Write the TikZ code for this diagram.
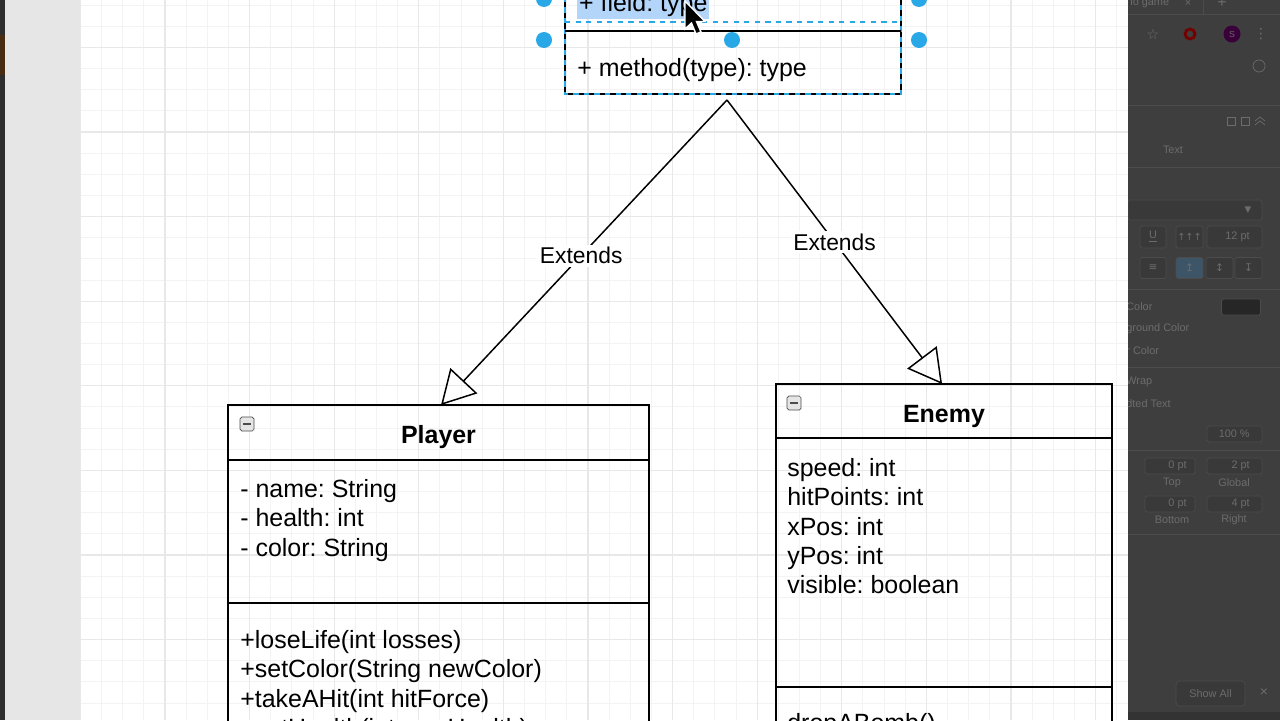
\documentclass[tikz,border=0pt]{standalone}
\usepackage{fontspec}
\setmainfont{Liberation Sans}
\newfontfamily\symfont{DejaVu Sans}
\frenchspacing
\usetikzlibrary{arrows.meta, positioning, calc}
\definecolor{DIOblue}{HTML}{29A8E8}
\definecolor{DIOselect}{HTML}{B4D5FA}
\definecolor{DIOgrid}{HTML}{F3F3F3}
\definecolor{DIOmajor}{HTML}{E8E8E8}
\definecolor{DIOside}{HTML}{E6E6E6}
\definecolor{DIOdark}{HTML}{2E2E2E}
\definecolor{DIObrown}{HTML}{4A2C12}
\definecolor{DIOpanel}{HTML}{3E3E3E}
\definecolor{DIOpanelbox}{HTML}{393939}
\definecolor{DIOpanelline}{HTML}{4C4C4C}
\definecolor{DIOpaneltext}{HTML}{6C6C6C}
\definecolor{DIOpanelblue}{HTML}{3E5568}

\tikzset{
  umlpart/.style={draw=black, line width=1.1pt, inner sep=0pt, outer sep=0pt},
  umlhead/.style={umlpart, font=\fontsize{14.2}{17}\selectfont\bfseries},
  members/.style={inner sep=0pt, align=left, font=\fontsize{14.2}{16.7}\selectfont},
  extends/.style={line width=0.85pt, -{Triangle[open, length=19pt, width=21pt]}},
  extlabel/.style={fill=white, inner sep=1.5pt, font=\fontsize{13}{15}\selectfont},
  collapser/.style={draw=gray!60!black, fill=gray!20, minimum size=0.28cm, inner sep=0pt,
    rounded corners=1pt, path picture={\draw[line width=1.1pt]
      ([xshift=1.8pt]path picture bounding box.west) -- ([xshift=-1.8pt]path picture bounding box.east);}},
  handle/.style={circle, fill=DIOblue, minimum size=0.32cm, inner sep=0pt},
  paneltext/.style={text=DIOpaneltext, font=\fontsize{6.2}{7}\selectfont, inner sep=0pt},
  panelbox/.style={draw=DIOpanelline, fill=DIOpanelbox, inner sep=0pt, rounded corners=1pt}
}

\begin{document}
\begin{tikzpicture}[x=0.02cm, y=-0.02cm]
  \useasboundingbox (0,0) rectangle (1280,720);
  \clip (0,0) rectangle (1280,720);
  % Left side bar
  \fill[DIOside] (0,0) rectangle (80,720);
  \fill[DIOdark] (0,0) rectangle (5,720);
  \fill[DIObrown] (0,35) rectangle (5,75);
  % Canvas with grid
  \begin{scope}
    \clip (80,0) rectangle (1128,720);
    \fill[white] (80,0) rectangle (1128,720);
    \foreach \i in {0,...,50}
      \draw[DIOgrid, line width=0.6pt] ({80.4+21.15*\i},0) -- ++(0,720);
    \foreach \j in {0,...,36}
      \draw[DIOgrid, line width=0.6pt] (80,{-16.05+21.15*\j}) -- ++(1048,0);
    \foreach \i in {0,...,12}
      \draw[DIOmajor, line width=0.7pt] ({80.4+84.6*\i},0) -- ++(0,720);
    \foreach \j in {-1,...,8}
      \draw[DIOmajor, line width=0.7pt] (80,{47.4+84.6*\j}) -- ++(1048,0);
  \end{scope}
  \draw[DIOmajor] (80,0) -- (80,720);

  % Base class (selected)
  \node[umlpart, draw=DIOblue, minimum width=6.72cm, minimum height=1.42cm] (topfields) at (733,-4.5) {};
  \node[umlpart, draw=DIOblue, minimum width=6.72cm, minimum height=1.26cm, below=0pt of topfields] (topops) {};
  \draw[line width=1.1pt, dashed] (topfields.north west) rectangle (topops.south east);
  \draw[line width=1.1pt] (topops.north west) -- (topops.north east);
  \draw[DIOblue, line width=0.9pt, dashed] (565,22) -- (901,22);
  \node[members, anchor=north west, fill=DIOselect, inner xsep=1pt, inner ysep=1.5pt] (topfieldtext) at (577,-10) {+ field: type};
  \node[members, anchor=north west] (topoptext) at (577,58) {+ method(type): type};
  \node[handle] (hleft) at (544,40) {};
  \node[handle] (hmid) at (732,40) {};
  \node[handle] (hright) at (919,40) {};
  \node[handle] (htopleft) at (544,-1) {};
  \node[handle] (htopright) at (919,-1) {};

  % Player class
  \node[umlhead, minimum width=8.42cm, minimum height=1.1cm, text depth=0pt] (playerhead) at (438.5,432.5) {\raisebox{-2.5pt}{Player}};
  \node[umlpart, minimum width=8.42cm, minimum height=2.86cm, below=0pt of playerhead] (playerattrs) {};
  \node[umlpart, minimum width=8.42cm, minimum height=3.54cm, below=0pt of playerattrs] (playerops) {};
  \node[collapser] (playerfold) at (247,424) {};
  \node[members, anchor=north west] (playerattrtext) at (240,479) {- name: String\\- health: int\\- color: String};
  \node[members, anchor=north west] (playeroptext) at (240,630) {+loseLife(int losses)\\+setColor(String newColor)\\+takeAHit(int hitForce)\\+setHealth(int newHealth)};

  % Enemy class
  \node[umlhead, minimum width=6.72cm, minimum height=1.08cm, text depth=0pt] (enemyhead) at (944,411) {\raisebox{-3pt}{Enemy}};
  \node[umlpart, minimum width=6.72cm, minimum height=4.98cm, below=0pt of enemyhead] (enemyattrs) {};
  \node[umlpart, minimum width=6.72cm, minimum height=1.86cm, below=0pt of enemyattrs] (enemyops) {};
  \node[collapser] (enemyfold) at (794,403) {};
  \node[members, anchor=north west] (enemyattrtext) at (787,458) {speed: int\\hitPoints: int\\xPos: int\\yPos: int\\visible: boolean};
  \node[members, anchor=north west] (enemyoptext) at (787,713) {dropABomb()};

  % Extends connectors
  \coordinate (apex) at ($(topops.south)+(-6,6)$);
  \coordinate (playertip) at ($(playerhead.north west)+(213,0)$);
  \coordinate (enemytip) at ($(enemyhead.north west)+(166,0)$);
  \draw[extends] (apex) -- node[extlabel, pos=0.51] (extleft) {Extends} (playertip);
  \draw[extends] (apex) -- node[extlabel, pos=0.5] (extright) {Extends} (enemytip);

  % Mouse pointer
  \filldraw[fill=black, draw=white, line width=0.8pt] (685,1) -- (685,29) -- (691.5,23) -- (696,34)
    -- (701,32) -- (696.5,21.5) -- (705,21.5) -- cycle;

  % Right format panel (dimmed)
  \begin{scope}
    \clip (1128,0) rectangle (1280,720);
    \fill[DIOpanel] (1128,0) rectangle (1280,720);
    \fill[black!80] (1128,712) rectangle (1280,720);
    \foreach \yy in {14,105,167,289,367,450,534}
      \draw[DIOpanelline] (1128,\yy) -- (1280,\yy);
    \draw[DIOpanelline] (1203,0) -- (1203,14);
    \node[paneltext, anchor=west] (tabtext) at (1130,3) {io game};
    \node[paneltext] (tabclose) at (1188,3) {×};
    \node[paneltext, font=\fontsize{9}{9}\selectfont] (tabnew) at (1222,3) {+};
    \node[paneltext, font=\symfont\fontsize{8}{8}\selectfont] (star) at (1153,34) {☆};
    \node[draw=red!45!black, line width=1.6pt, circle, minimum size=0.2cm, inner sep=0pt] (opera) at (1190,34) {};
    \node[fill=violet!45!black, circle, minimum size=0.34cm, inner sep=0pt, text=DIOpaneltext,
      font=\fontsize{5}{5}\selectfont] (avatar) at (1232,34) {S};
    \node[paneltext, font=\symfont\fontsize{8}{8}\selectfont] (menu) at (1261,34) {⋮};
    \node[draw=DIOpaneltext, circle, minimum size=0.24cm, inner sep=0pt] (globe) at (1259,66) {};
    \node[draw=DIOpaneltext, minimum size=0.16cm, inner sep=0pt] (ico1) at (1231,121) {};
    \node[draw=DIOpaneltext, minimum size=0.16cm, inner sep=0pt] (ico2) at (1245,121) {};
    \draw[DIOpaneltext] (1255,121) -- (1260,117) -- (1265,121) (1255,125) -- (1260,121) -- (1265,125);
    \node[paneltext] (texttab) at (1173,150) {Text};
    \node[panelbox, minimum width=2.68cm, minimum height=0.4cm] (fontbox) at (1195,210) {};
    \node[paneltext, font=\symfont\fontsize{5}{5}\selectfont] (fontarrow) at (1248,210) {▼};
    \node[panelbox, minimum width=0.52cm, minimum height=0.44cm] (ubox) at (1153,237) {};
    \node[paneltext] (utext) at (ubox) {\underline{U}};
    \node[panelbox, minimum width=0.54cm, minimum height=0.44cm] (spbox) at (1189.5,237) {};
    \node[paneltext, font=\symfont\fontsize{5.5}{6}\selectfont] (sptext) at (spbox) {↑↑↑};
    \node[panelbox, minimum width=1.1cm, minimum height=0.44cm] (sizebox) at (1234.5,237) {};
    \node[paneltext, anchor=east] (sizetext) at (1250,237) {12 pt};
    \node[panelbox, minimum width=0.52cm, minimum height=0.42cm] (alignbox) at (1153,268) {};
    \node[paneltext, font=\symfont\fontsize{6}{6}\selectfont] (aligntext) at (alignbox) {≡};
    \node[panelbox, fill=DIOpanelblue, minimum width=0.54cm, minimum height=0.42cm] (topbox) at (1189.5,268) {};
    \node[paneltext, font=\symfont\fontsize{6}{6}\selectfont] (toptext) at (topbox) {↥};
    \node[panelbox, minimum width=0.54cm, minimum height=0.42cm] (midbox) at (1219.5,268) {};
    \node[paneltext, font=\symfont\fontsize{6}{6}\selectfont] (midtext) at (midbox) {↕};
    \node[panelbox, minimum width=0.54cm, minimum height=0.42cm] (botbox) at (1248.5,268) {};
    \node[paneltext, font=\symfont\fontsize{6}{6}\selectfont] (bottext) at (botbox) {↧};
    \node[paneltext, anchor=west] (fontcolor) at (1126,307) {Color};
    \node[panelbox, fill=black!85, minimum width=0.78cm, minimum height=0.32cm] (swatch) at (1241,307) {};
    \node[paneltext, anchor=west] (bgcolor) at (1126,329) {ground Color};
    \node[paneltext, anchor=west] (bordercolor) at (1126,351) {r Color};
    \node[paneltext, anchor=west] (wrap) at (1126,382) {Wrap};
    \node[paneltext, anchor=west] (formatted) at (1126,404) {dted Text};
    \node[panelbox, minimum width=1.1cm, minimum height=0.32cm] (opbox) at (1234.5,434) {};
    \node[paneltext, anchor=east] (optext) at (1250,434) {100 \%};
    \node[panelbox, minimum width=1.0cm, minimum height=0.32cm] (topspbox) at (1170,466) {};
    \node[paneltext, anchor=east] (topsptext) at (1187,466) {0 pt};
    \node[panelbox, minimum width=1.1cm, minimum height=0.32cm] (globbox) at (1234.5,466) {};
    \node[paneltext, anchor=east] (globtext) at (1250,466) {2 pt};
    \node[paneltext] (toplabel) at (1172,483) {Top};
    \node[paneltext] (globlabel) at (1234,483) {Global};
    \node[panelbox, minimum width=1.0cm, minimum height=0.32cm] (botspbox) at (1170,504) {};
    \node[paneltext, anchor=east] (botsptext) at (1187,504) {0 pt};
    \node[panelbox, minimum width=1.1cm, minimum height=0.32cm] (rightbox) at (1234.5,504) {};
    \node[paneltext, anchor=east] (righttext) at (1250,504) {4 pt};
    \node[paneltext] (botlabel) at (1172,520) {Bottom};
    \node[paneltext] (rightlabel) at (1234,520) {Right};
    \node[panelbox, rounded corners=2pt, minimum width=1.38cm, minimum height=0.5cm] (showall) at (1210.5,693.5) {};
    \node[paneltext] (showtext) at (showall) {Show All};
    \node[paneltext, font=\fontsize{8}{8}\selectfont] (closeall) at (1264,693) {×};
  \end{scope}
\end{tikzpicture}
\end{document}
